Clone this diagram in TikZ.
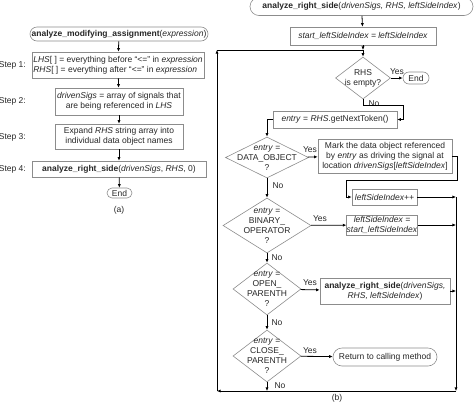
\documentclass[tikz,border=0pt]{standalone}
\usepackage{fontspec}
\setmainfont{Liberation Sans}
\usetikzlibrary{arrows.meta,positioning,calc,shapes.geometric}

\begin{document}
\begin{tikzpicture}[x=1pt,y=-1pt,>={Latex[length=3.6pt,width=3.2pt]},
  every node/.style={font=\fontsize{8.5}{10}\selectfont,text=black!85},
  box/.style={draw=black!45,line width=0.6pt,inner sep=0pt,align=center},
  term/.style={box,rounded corners=7pt},
  dia/.style={draw=black!45,line width=0.6pt,shape=diamond,inner sep=0pt},
  txt/.style={inner sep=1pt,align=center},
  arr/.style={->,line width=0.8pt,black}]
\useasboundingbox (0,0) rectangle (474,405);
% (a)
\node[term,minimum width=178,minimum height=14] (tmod) at (119,34) {\textbf{analyze\_modifying\_assignment}(\textit{expression})};
\node[box,minimum width=172,minimum height=26,align=left] (split) at (118,65) {\textit{LHS}[ ] = everything before ``<='' in \textit{expression}\\\textit{RHS}[ ] = everything after ``<='' in \textit{expression}};
\node[box,minimum width=128,minimum height=27] (sigs) at (119,101.5) {\textit{drivenSigs} = array of signals that\\are being referenced in \textit{LHS}};
\node[box,minimum width=128,minimum height=25] (expand) at (119,136.5) {Expand \textit{RHS} string array into\\individual data object names};
\node[box,minimum width=174,minimum height=16] (call) at (119,169) {\textbf{analyze\_right\_side}(\textit{drivenSigs}, \textit{RHS}, 0)};
\node[term,rounded corners=5pt,minimum width=25,minimum height=10] (enda) at (119.5,193) {End};
\node[txt] (capa) at (119,210) {(a)};
\node[txt,anchor=east] (step1) at (27,65) {Step 1:};
\node[txt,anchor=east] (step2) at (27,101) {Step 2:};
\node[txt,anchor=east] (step3) at (27,137) {Step 3:};
\node[txt,anchor=east] (step4) at (27,169) {Step 4:};
\draw[arr] (tmod) -- (split);
\draw[arr] (split) -- (sigs);
\draw[arr] (sigs) -- (expand);
\draw[arr] (expand) -- (call);
\draw[arr] (call) -- (enda);
% (b)
\node[term,rounded corners=9pt,minimum width=223,minimum height=18] (tright) at (361.5,6.5) {\textbf{analyze\_right\_side}(\textit{drivenSigs, RHS, leftSideIndex})};
\node[box,minimum width=146,minimum height=18] (start) at (363,36) {\textit{start\_leftSideIndex = leftSideIndex}};
\coordinate (join) at (363,50);
\node[dia,minimum width=55,minimum height=42,label={[txt]center:RHS\\is empty?}] (empty) at (363,78) {};
\node[term,rounded corners=6pt,minimum width=26,minimum height=12] (endb) at (416,78) {End};
\node[box,minimum width=124,minimum height=17] (token) at (335,119.5) {\textit{entry} = \textit{RHS}.getNextToken()};
\node[dia,minimum width=83,minimum height=41,label={[txt]center:\textit{entry} =\\DATA\_OBJECT\\?}] (isdata) at (267,157.5) {};
\node[box,minimum width=134,minimum height=34] (mark) at (385,156) {Mark the data object referenced\\by \textit{entry} as driving the signal at\\location \textit{drivenSigs}[\textit{leftSideIndex}]};
\node[box,minimum width=65,minimum height=16] (incr) at (384.5,197) {\textit{leftSideIndex++}};
\node[dia,minimum width=88,minimum height=55,label={[txt]center:\textit{entry} =\\BINARY\_\\OPERATOR\\?}] (isbin) at (267,225.5) {};
\node[box,minimum width=70,minimum height=20] (reset) at (382,225) {\textit{leftSideIndex =}\\\textit{start\_leftSideIndex}};
\node[dia,minimum width=68,minimum height=52,label={[txt]center:\textit{entry} =\\OPEN\_\\PARENTH\\?}] (isopen) at (267,289) {};
\node[box,minimum width=130,minimum height=26] (recur) at (385,291) {\textbf{analyze\_right\_side}(\textit{drivenSigs,}\\\textit{RHS, leftSideIndex})};
\node[dia,minimum width=68,minimum height=52,label={[txt]center:\textit{entry} =\\CLOSE\_\\PARENTH\\?}] (isclose) at (267,356) {};
\node[term,rounded corners=9pt,minimum width=104,minimum height=18] (ret) at (385,357) {Return to calling method};
\node[txt] (capb) at (337,398) {(b)};
\node[txt] (yes0) at (397,72) {Yes};
\node[txt] (no0) at (374,104) {No};
\node[txt] (yes1) at (310,150) {Yes};
\node[txt] (no1) at (278,186) {No};
\node[txt] (yes2) at (320,219) {Yes};
\node[txt] (no2) at (277,258) {No};
\node[txt] (yes3) at (310,283) {Yes};
\node[txt] (no3) at (277,323) {No};
\node[txt] (yes4) at (310,351) {Yes};
\node[txt] (no4) at (280,386) {No};
\coordinate (rtop) at (456,197);
\coordinate (rbot) at (456,391);
\coordinate (lbot) at (217,391);
\coordinate (ltop) at (217,50);
\draw[arr] (tright) -- (start);
\draw[arr] (start) -- (join);
\draw[arr] (join) -- (empty);
\draw[arr] (empty) -- (endb);
\draw[arr] (empty.south) -- ++(0,6) -| ($(token.east)+(6,0)$) -- (token.east);
\draw[arr] (token.west) -| (isdata.north);
\draw[arr] (isdata) -- (mark);
\draw[arr] (mark.east) -- ++(5,0) |- ($(incr.west)+(-5,-17)$) |- (incr.west);
\draw[arr] (isdata) -- (isbin);
\draw[arr] (isbin) -- (reset);
\draw[arr] (incr.east) -- (incr.east -| rtop);
\draw[arr] (reset.east) -- (reset.east -| rtop);
\draw[arr] (isbin) -- (isopen);
\draw[arr] (isopen) -- (recur);
\draw[arr] (recur.east) -- (recur.east -| rtop);
\draw[arr] (isopen) -- (isclose);
\draw[arr] (isclose) -- (ret);
\draw[arr] (isclose.south) -- (isclose.south |- rbot);
\draw[arr] (rtop) -- (rbot);
\draw[arr] (rbot) -- (lbot);
\draw[arr] (lbot) -- (ltop);
\draw[line width=0.8pt] (ltop) -- (join);
\end{tikzpicture}
\end{document}
